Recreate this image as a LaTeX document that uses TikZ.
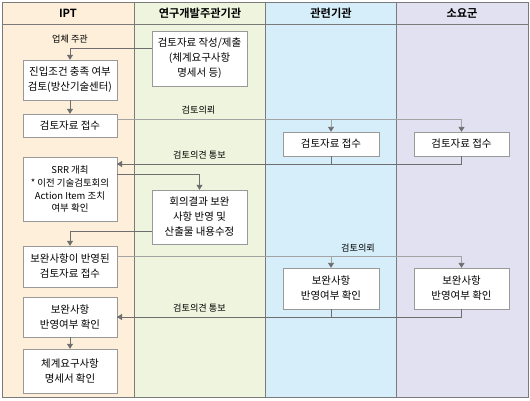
\documentclass[tikz,border=0pt]{standalone}
\usepackage{fontspec}
\setmainfont{Noto Sans CJK KR}[BoldFont={Noto Sans CJK KR Bold}]
\usetikzlibrary{arrows.meta}
\definecolor{iptbg}{HTML}{FDEFD9}
\definecolor{devbg}{HTML}{EEF4DD}
\definecolor{relbg}{HTML}{D5EEFA}
\definecolor{armbg}{HTML}{E1E1F1}
\definecolor{frame}{HTML}{7A7A7A}
\definecolor{reqline}{HTML}{A3A3A3}
\definecolor{ansline}{HTML}{6E6E6E}

\begin{document}
\begin{tikzpicture}[x=1bp,y=-1bp,
  box/.style={draw=black!40,fill=white,align=center,inner sep=0pt,
    minimum width=94bp,font=\fontsize{10.5}{15}\selectfont},
  lbl/.style={font=\fontsize{9.2}{11}\selectfont},
  head/.style={font=\fontsize{11.25}{13}\selectfont\bfseries},
  req/.style={draw=reqline,line width=0.9bp},
  ans/.style={draw=ansline,line width=0.8bp},
  >={Triangle[width=6bp,length=5bp,color=ansline]}]
\useasboundingbox (0,0) rectangle (530,400);
%% lanes
\fill[iptbg] (2,2) rectangle (134.5,397);
\fill[devbg] (134.5,2) rectangle (265.5,397);
\fill[relbg] (265.5,2) rectangle (396,397);
\fill[armbg] (396,2) rectangle (528,397);
\draw[frame,line width=1bp] (2,2) rectangle (528,397);
\foreach \x in {134.5,265.5,396} \draw[frame,line width=1bp] (\x,2) -- (\x,397);
\draw[frame,line width=1bp] (2,24) -- (528,24);
\node[head] (hIPT) at (68,13) {IPT};
\node[head] (hDev) at (200,13) {연구개발주관기관};
\node[head] (hRel) at (331,13) {관련기관};
\node[head] (hArm) at (462,13) {소요군};
%% nodes
\node[lbl] (corp) at (70,39) {업체 주관};
\node[box,minimum height=40bp] (entry) at (70,80) {진입조건 충족 여부\\검토(방산기술센터)};
\node[box,minimum height=23bp] (recv) at (70,125.5) {검토자료 접수};
\node[box,minimum height=64bp,font=\fontsize{9.5}{13}\selectfont] (srr) at (70,189)
  {SRR 개최\\* 이전 기술검토회의\\Action Item 조치\\여부 확인};
\node[box,minimum height=41bp] (rerecv) at (70,266.5) {보완사항이 반영된\\검토자료 접수};
\node[box,minimum height=40bp] (check) at (70,317) {보완사항\\반영여부 확인};
\node[box,minimum height=44bp] (spec) at (70,371) {체계요구사항\\명세서 확인};
\node[box,minimum width=95bp,minimum height=55bp] (submit) at (199.5,58.5)
  {검토자료 작성/제출\\(체계요구사항\\명세서 등)};
\node[box,minimum width=95bp,minimum height=54bp] (revise) at (199.5,217)
  {회의결과 보완\\사항 반영 및\\산출물 내용수정};
\node[box,minimum width=96bp,minimum height=24bp] (relRecv) at (331,144) {검토자료 접수};
\node[box,minimum width=95bp,minimum height=24bp] (armRecv) at (461.5,144) {검토자료 접수};
\node[box,minimum width=96bp,minimum height=41bp] (relChk) at (331,288.5) {보완사항\\반영여부 확인};
\node[box,minimum width=95bp,minimum height=41bp] (armChk) at (461.5,288.5) {보완사항\\반영여부 확인};
\node[lbl] (ask1) at (198.5,110.5) {검토의뢰};
\node[lbl] (ret1) at (199.5,155) {검토의견 통보};
\node[lbl] (ask2) at (358,248) {검토의뢰};
\node[lbl] (ret2) at (199.5,308) {검토의견 통보};
%%% edges
\coordinate (subOut) at (152,48);
\coordinate (askOut1) at (117,119);
\coordinate (retIn1) at (117,164);
\coordinate (srrOut) at (117,174);
\coordinate (revOut) at (152,231);
\coordinate (askOut2) at (117,256);
\coordinate (retIn2) at (117,317);
\draw[ans,->] (subOut) -| (entry.north);
\draw[ans,->] (entry) -- (recv);
\draw[req,->] (askOut1) -| (relRecv.north);
\draw[req,->] (askOut1) -| (armRecv.north);
\draw[ans] (relRecv.south) |- (retIn1);
\draw[ans,->] (armRecv.south) |- (retIn1);
\draw[ans,->] (srrOut) -| (revise.north);
\draw[ans,->] (revOut) -| (rerecv.north);
\draw[req,->] (askOut2) -| (relChk.north);
\draw[req,->] (askOut2) -| (armChk.north);
\draw[ans] (relChk.south) |- (retIn2);
\draw[ans,->] (armChk.south) |- (retIn2);
\draw[ans,->] (check) -- (spec);
\end{tikzpicture}
\end{document}
